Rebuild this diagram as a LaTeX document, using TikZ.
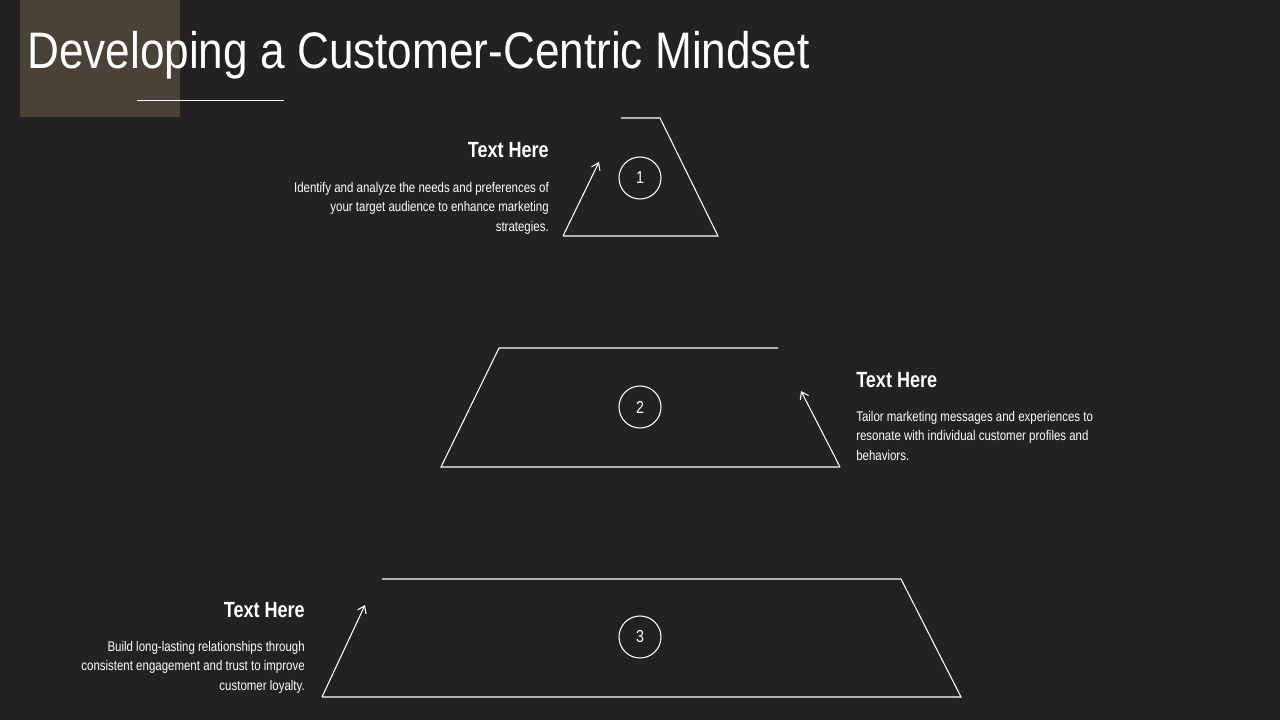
\documentclass[tikz,border=0pt]{standalone}
\usepackage{fontspec}
\setmainfont{Liberation Sans}[FakeStretch=0.82]
\newfontfamily\titlefont{Liberation Sans}[FakeStretch=0.86]
\usetikzlibrary{arrows.meta}
\definecolor{bg}{HTML}{232122}
\definecolor{box}{HTML}{4A4236}
\tikzset{
  edge/.style={white, line width=0.8pt},
  arr/.style={edge, -{Straight Barb[length=5pt,width=7pt]}},
  num/.style={circle, draw=white, line width=0.8pt, minimum size=31.5pt, text=white, font=\fontsize{13}{15}\selectfont},
  head/.style={text=white, font=\fontsize{16.5}{20}\selectfont\bfseries, inner sep=0},
  desc/.style={text=white, font=\fontsize{10.5}{14.6}\selectfont, inner sep=0}
}
\begin{document}
\begin{tikzpicture}[x=0.75pt,y=-0.75pt]
\fill[bg] (0,0) rectangle (1280,720);
\useasboundingbox (0,0) rectangle (1280,720);
\fill[box] (20,0) rectangle (180,117);
\node[anchor=west, text=white, inner sep=0, font=\titlefont\fontsize{38.5}{42}\selectfont] (title) at (27,55) {Developing a Customer-Centric Mindset};
\coordinate (u1) at (137,100); \coordinate (u2) at (284,100);
\draw[white, line width=0.6pt] (u1) -- (u2);
% shape 1
\coordinate (a1) at (621,118); \coordinate (a2) at (660,118); \coordinate (a3) at (718,236);
\coordinate (a4) at (563,236); \coordinate (a5) at (599,162);
\draw[edge] (a1) -- (a2) -- (a3) -- (a4);
\draw[arr] (a4) -- (a5);
\node[num] (n1) at (640,178) {1};
\node[head, anchor=east] (h1) at (549,150) {Text Here};
\node[desc, anchor=north east, align=right] (d1) at (549,182) {Identify and analyze the needs and preferences of\\ your target audience to enhance marketing\\ strategies.};
% shape 2
\coordinate (b1) at (778,348); \coordinate (b2) at (499,348); \coordinate (b3) at (441,467);
\coordinate (b4) at (840,467); \coordinate (b5) at (801,391);
\draw[edge] (b1) -- (b2) -- (b3) -- (b4);
\draw[arr] (b4) -- (b5);
\node[num] (n2) at (640,407) {2};
\node[head, anchor=west] (h2) at (856,380) {Text Here};
\node[desc, anchor=north west, align=left] (d2) at (856,411) {Tailor marketing messages and experiences to\\ resonate with individual customer profiles and\\ behaviors.};
% shape 3
\coordinate (c1) at (382,579); \coordinate (c2) at (901,579); \coordinate (c3) at (961,697);
\coordinate (c4) at (322,697); \coordinate (c5) at (365,605);
\draw[edge] (c1) -- (c2) -- (c3) -- (c4);
\draw[arr] (c4) -- (c5);
\node[num] (n3) at (640,637) {3};
\node[head, anchor=east] (h3) at (305,610) {Text Here};
\node[desc, anchor=north east, align=right] (d3) at (305,641) {Build long-lasting relationships through\\ consistent engagement and trust to improve\\ customer loyalty.};
\end{tikzpicture}
\end{document}
